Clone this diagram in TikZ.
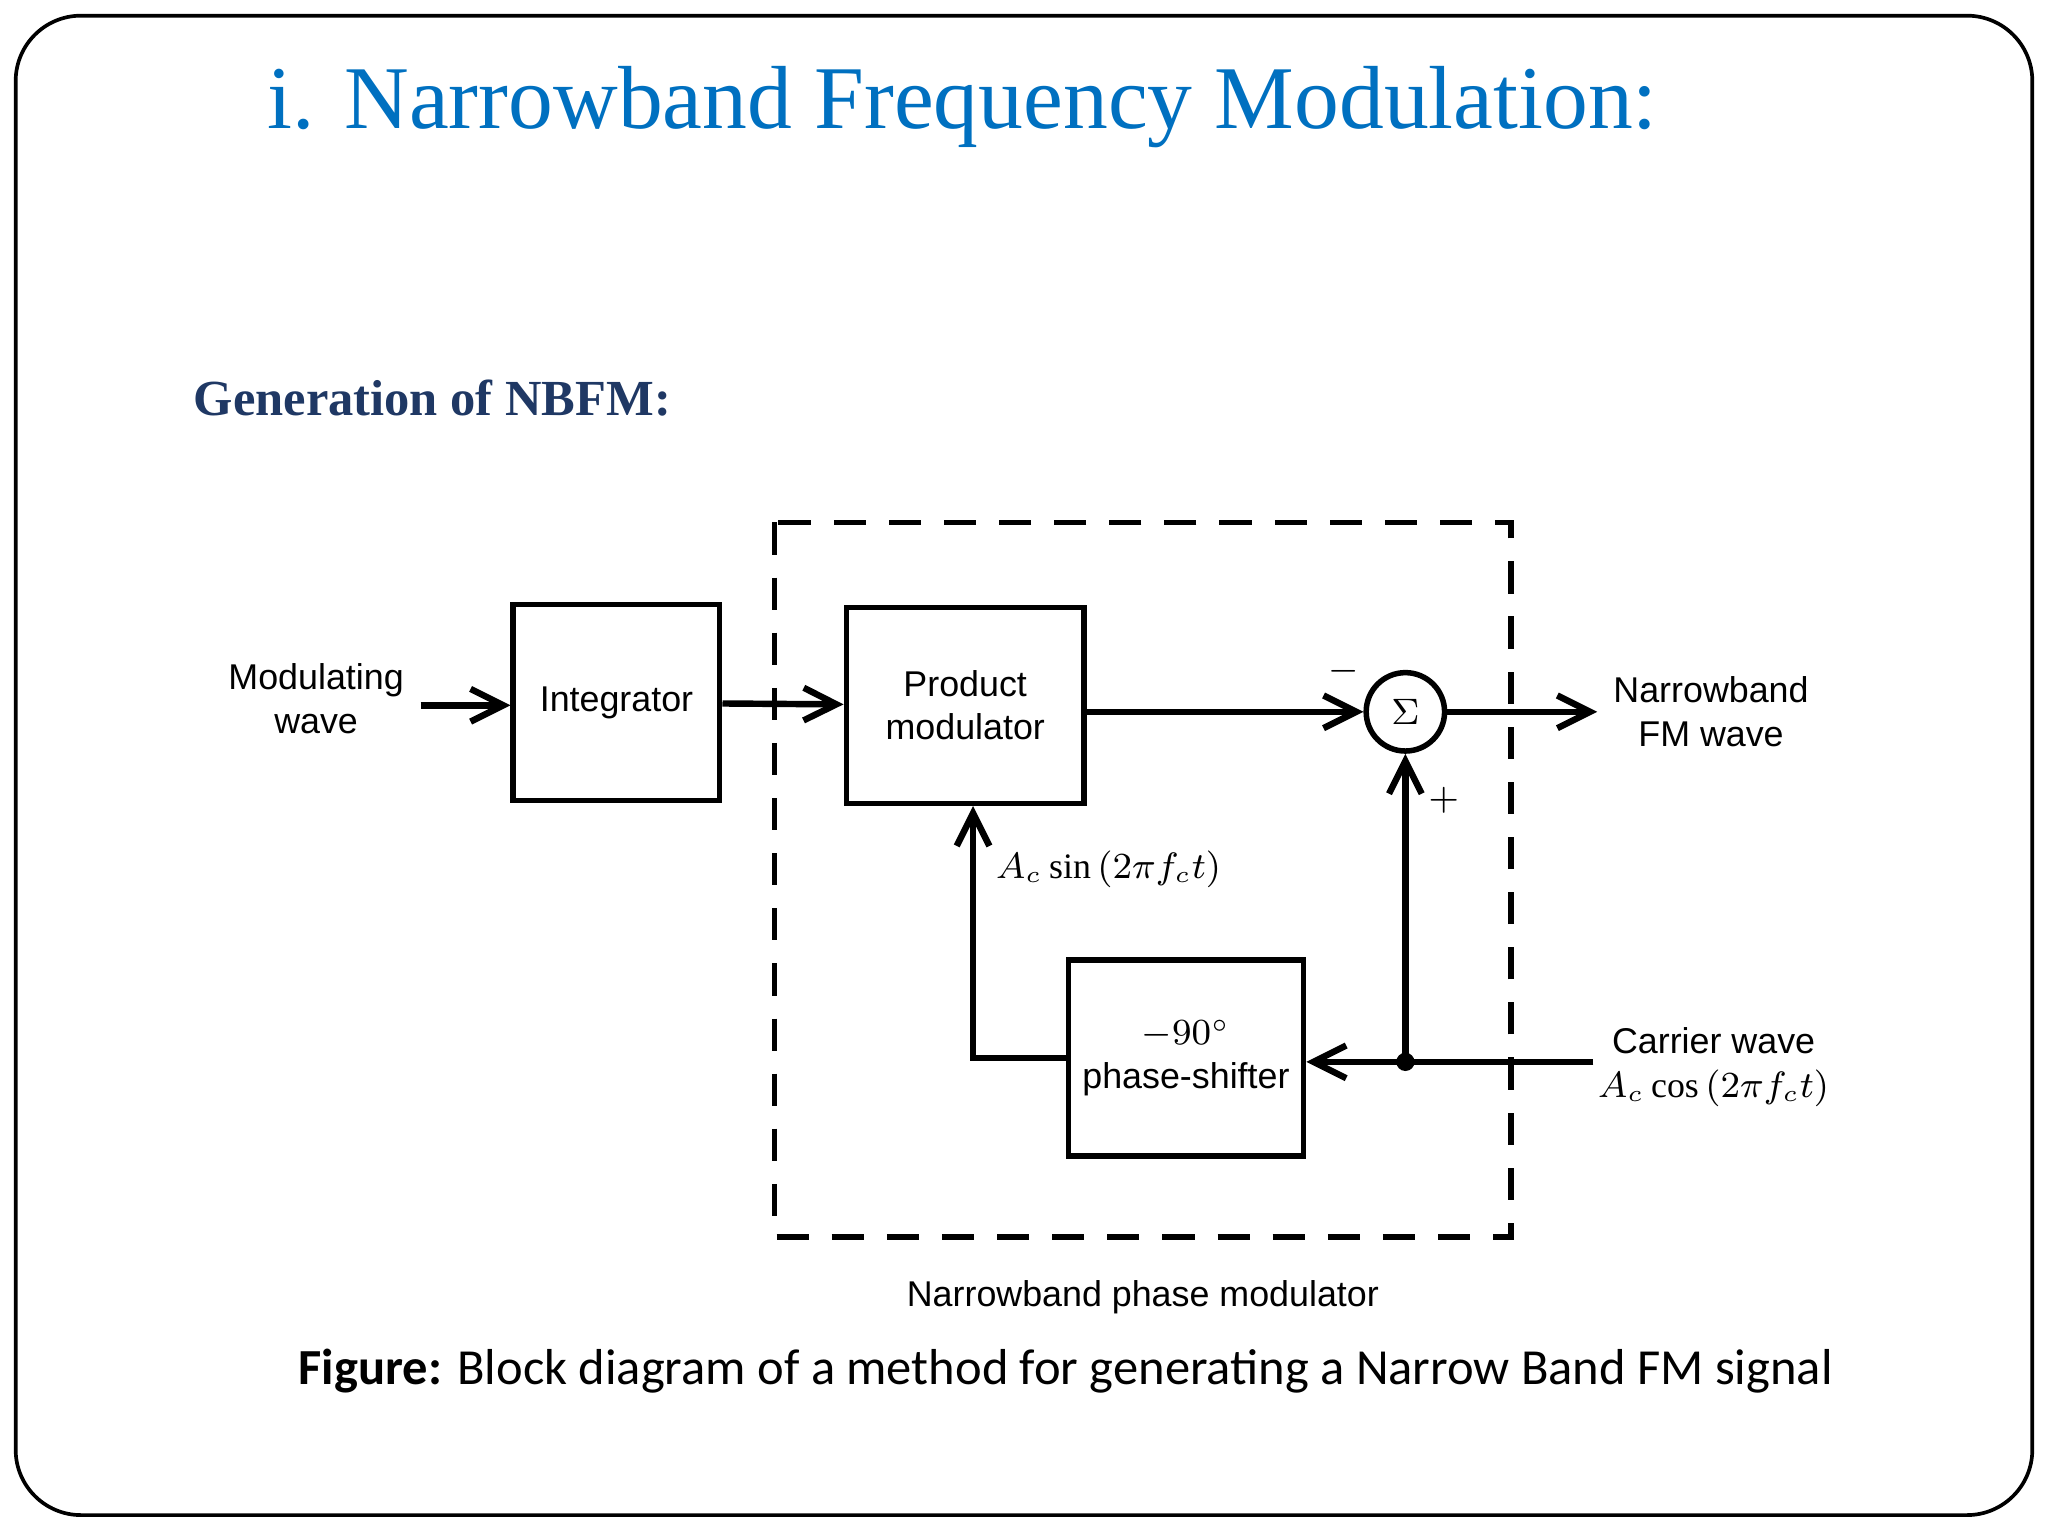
\documentclass[tikz,border=0pt]{standalone}
\usepackage{fontspec}
\setmainfont{Liberation Serif}
\newfontfamily\diagfont{Liberation Sans}
\newfontfamily\capfont{Carlito}
\definecolor{titleblue}{RGB}{0,112,192}
\definecolor{headblue}{RGB}{31,56,100}
\usetikzlibrary{positioning, arrows.meta}
\begin{document}
\begin{tikzpicture}[x=0.01cm, y=-0.01cm,
  font=\diagfont\fontsize{7.8}{9.5}\selectfont,
  block/.style = {draw, line width=1.2pt, minimum width=#1, minimum height=1.5cm,
                  align=center, inner sep=0pt},
  sum/.style   = {draw, circle, line width=1.2pt, minimum size=0.6cm, inner sep=0pt},
  sig/.style   = {line width=1.4pt, -{Straight Barb[length=2.5mm,width=2.5mm]}},
  wire/.style  = {line width=1.4pt}
                 ]
\useasboundingbox (0,0) rectangle (1568,1176);
\draw[line width=0.8pt, rounded corners=0.5cm] (12,12) rectangle (1556,1160);

% headings
\node[font=\fontsize{19.5}{23}\selectfont, text=titleblue] (title) at (737,82)
  {i. Narrowband Frequency Modulation:};
\node[font=\bfseries\fontsize{11}{13}\selectfont, text=headblue, anchor=west] (head)
  at (136,305) {Generation of NBFM:};

% blocks
\draw[line width=1.2pt, dash pattern=on 7pt off 5pt] (593,400) rectangle (1157,947);
\node[block=1.58cm] (integ) at (472,538) {Integrator};
\node[block=1.82cm] (prod)  at (739,540) {Product\\modulator};
\node[sum] (sum) at (1076,545) {$\Sigma$};
\node[block=1.80cm] (shift) at (908,810) {$-90^\circ$\\phase-shifter};

% labels
\node[align=center] (in)  at (242,535) {Modulating\\wave};
\node[align=center] (out) at (1310,545) {Narrowband\\FM wave};
\node[align=center] (car) at (1312,817) {Carrier wave\\$A_c\cos\,(2\pi f_c t)$};
\node (pm) at (875,993) {Narrowband phase modulator};
\coordinate (win) at (322,540);
\coordinate (cin) at (1220,813);
\coordinate (dot) at (1076,813);
\coordinate (bend) at (745,810);

% connectors
\draw[sig] (win) -- (integ.west |- win);
\draw[sig] (integ) -- (prod);
\draw[sig] (prod.east |- sum) -- (sum) node[pos=0.93, above=2pt] {$-$};
\draw[sig] (sum) -- (out.west);
\draw[sig] (cin) -- (shift.east |- cin);
\fill (dot) circle (0.07cm);
\draw[sig] (dot) -- (sum) node[pos=0.85, right=1pt] {$+$};
\draw[sig] (shift.west |- bend) -- (bend) -- (bend |- prod.south)
  node[pos=0.75, right=1pt] {$A_c\sin\,(2\pi f_c t)$};

% caption
\node[font=\capfont\fontsize{11}{13}\selectfont] (cap) at (816,1050)
  {\textbf{Figure:} Block diagram of a method for generating a Narrow Band FM signal};
\end{tikzpicture}
\end{document}
